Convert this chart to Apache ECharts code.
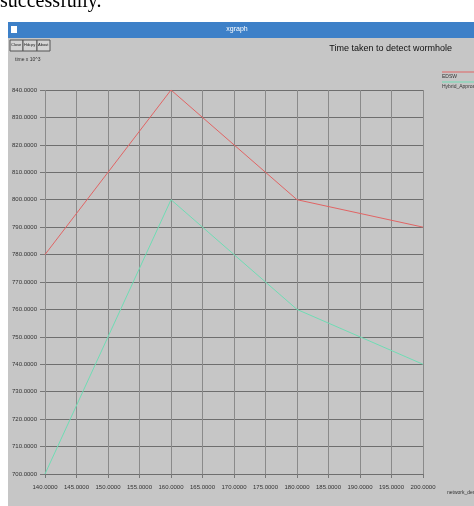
<!DOCTYPE html>
<html>
<head>
<meta charset="utf-8">
<script src="https://cdn.jsdelivr.net/npm/echarts@6/dist/echarts.min.js"></script>
<style>
  html, body { margin: 0; padding: 0; background: #fff; }
  #main { width: 474px; height: 506px; }
</style>
</head>
<body>
<div id="main"></div>
<script>
// data
const density = [140, 160, 180, 200]
const edswTime = [780, 840, 800, 790]
const hybridTime = [700, 800, 760, 740]
const seriesNames = ['EDSW', 'Hybrid_Approach']

const chart = echarts.init(document.getElementById('main'))

const fmt = (v) => v.toFixed(4)
const sans = 'Liberation Sans, Arial, sans-serif'
const labelFont = { fontSize: 6, color: '#333', fontFamily: sans }

chart.setOption({
  backgroundColor: '#ffffff',
  animation: false,
  graphic: [
    // window body and title bar
    { type: 'rect', z: -10, shape: { x: 8, y: 22, width: 466, height: 484 }, style: { fill: '#c6c6c6' } },
    { type: 'rect', z: -9, shape: { x: 8, y: 22, width: 466, height: 16 }, style: { fill: '#3d80c8' } },
    { type: 'rect', z: -8, shape: { x: 11, y: 26, width: 6, height: 7 }, style: { fill: '#ffffff' } },
    { type: 'text', left: 'center', top: 26, style: { text: 'xgraph', fill: '#fff', fontSize: 7, fontFamily: sans } },
    { type: 'text', left: 0, top: -8, style: { text: 'successfully.', fill: '#000', fontSize: 20, fontFamily: 'Liberation Serif' } },
    // buttons
    { type: 'rect', shape: { x: 10, y: 40, width: 13, height: 11 }, style: { fill: '#d4d4d4', stroke: '#555' } },
    { type: 'rect', shape: { x: 23, y: 40, width: 14, height: 11 }, style: { fill: '#d4d4d4', stroke: '#555' } },
    { type: 'rect', shape: { x: 37, y: 40, width: 13, height: 11 }, style: { fill: '#d4d4d4', stroke: '#555' } },
    { type: 'text', left: 11, top: 43, style: { text: 'Close', fontSize: 4, fill: '#222', fontFamily: sans } },
    { type: 'text', left: 24, top: 43, style: { text: 'Hdcpy', fontSize: 4, fill: '#222', fontFamily: sans } },
    { type: 'text', left: 38, top: 43, style: { text: 'About', fontSize: 4, fill: '#222', fontFamily: sans } },
    { type: 'text', left: 15, top: 57, style: { text: 'time x 10^3', fontSize: 5, fill: '#333', fontFamily: sans } },
    { type: 'text', right: 22, top: 44, style: { text: 'Time taken to detect wormhole', fontSize: 9, fill: '#111', fontFamily: sans } },
    // legend
    { type: 'line', shape: { x1: 442, y1: 72, x2: 474, y2: 72 }, style: { stroke: '#e06464', lineWidth: 1 } },
    { type: 'text', left: 442, top: 74, style: { text: seriesNames[0], fontSize: 5, fill: '#333', fontFamily: sans } },
    { type: 'line', shape: { x1: 442, y1: 82, x2: 474, y2: 82 }, style: { stroke: '#6fdcb4', lineWidth: 1 } },
    { type: 'text', left: 442, top: 84, style: { text: seriesNames[1], fontSize: 5, fill: '#333', fontFamily: sans } },
    { type: 'text', left: 447, top: 490, style: { text: 'network_density', fontSize: 5, fill: '#333', fontFamily: sans } }
  ],
  grid: { left: 45, right: 51, top: 90, bottom: 32 },
  xAxis: {
    type: 'value',
    min: 140, max: 200, interval: 5,
    axisLine: { show: false },
    axisTick: { show: true, length: 4, lineStyle: { color: '#777' } },
    axisLabel: Object.assign({ formatter: fmt, margin: 10 }, labelFont),
    splitLine: { show: true, lineStyle: { color: '#8a8a8a', width: 1 } }
  },
  yAxis: {
    type: 'value',
    min: 700, max: 840, interval: 10,
    axisLine: { show: false },
    axisTick: { show: true, length: 5, lineStyle: { color: '#777' } },
    axisLabel: Object.assign({ formatter: fmt, margin: 8 }, labelFont),
    splitLine: { show: true, lineStyle: { color: '#6e6e6e', width: 1 } }
  },
  series: [
    {
      name: seriesNames[0], type: 'line', symbol: 'none',
      lineStyle: { color: '#e06464', width: 1 },
      data: density.map((d, i) => [d, edswTime[i]])
    },
    {
      name: seriesNames[1], type: 'line', symbol: 'none',
      lineStyle: { color: '#6fdcb4', width: 1 },
      data: density.map((d, i) => [d, hybridTime[i]])
    }
  ]
})
</script>
</body>
</html>
